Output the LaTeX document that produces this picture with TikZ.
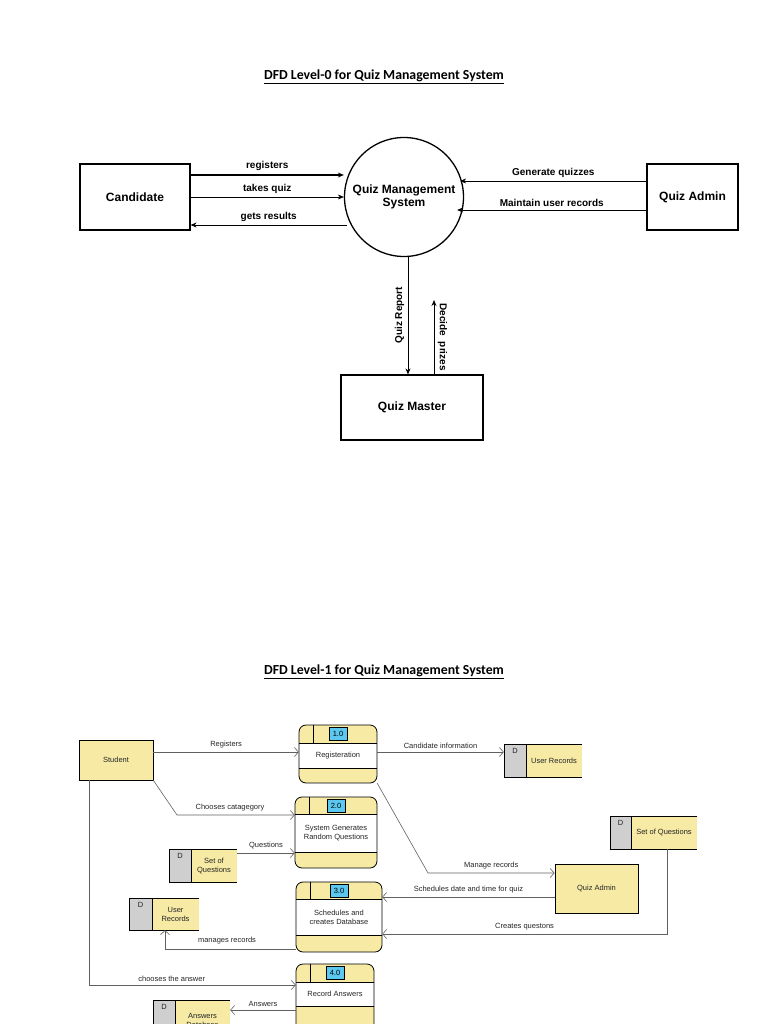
\documentclass[tikz,border=0pt]{standalone}
\usepackage{fontspec}
\setmainfont{Liberation Sans}
\newfontfamily\carl{Carlito}
\usetikzlibrary{arrows.meta,fit,calc}
\definecolor{dyel}{HTML}{F6EAA4}
\definecolor{dgray}{HTML}{CFCFCF}
\definecolor{dblue}{HTML}{5CC8F0}
\definecolor{lgray}{HTML}{606060}
\tikzset{
  ent/.style={draw,line width=1.2pt,fill=white},
  big/.style={font=\fontsize{12}{13}\selectfont\bfseries},
  lab/.style={font=\fontsize{10}{11}\selectfont\bfseries},
  a0/.style={-{Stealth[length=6pt,width=5pt]},line width=0.7pt},
  a1/.style={-{Straight Barb[length=4pt,width=9pt]},draw=lgray,line width=0.6pt},
  sm/.style={font=\fontsize{7.5}{9}\selectfont,text=black!85},
  ttl/.style={font=\carl\fontsize{13.8}{15}\selectfont\bfseries},
}
\newcommand\dfproc[9]{%
  \begin{scope}
  \clip[rounded corners=7pt] (#2,#3) rectangle (#4,#5);
  \fill[dyel] (#2,#3) rectangle (#4,#5);
  \fill[white] (#2,#6) rectangle (#4,#7);
  \end{scope}
  \draw[line width=0.8pt,rounded corners=7pt] (#2,#3) rectangle (#4,#5);
  \draw[line width=0.7pt] (#2,#6) -- (#4,#6) (#2,#7) -- (#4,#7) ($(#2,#3)+(14,0)$) -- ($(#2,#6)+(14,0)$);
  \node[fit={(#2,#3)(#4,#5)},inner sep=0] (#1) {};
  \node[draw,fill=dblue,minimum width=18pt,minimum height=13pt,inner sep=0,font=\fontsize{7.5}{8}\selectfont] at ($(#2,#3)!0.5!(#4,#3)+(0,9)$) {#8};
  \node[sm,align=center] at ($(#2,#6)!0.5!(#4,#7)$) {#9};
}
\newcommand\dfstore[7]{%
  \fill[dyel] (#2,#3) rectangle (#4,#5);
  \fill[dgray] (#2,#3) rectangle (#6,#5);
  \draw[line width=0.7pt] (#4,#3) -- (#2,#3) -- (#2,#5) -- (#4,#5) (#6,#3) -- (#6,#5);
  \node[fit={(#2,#3)(#4,#5)},inner sep=0] (#1) {};
  \node[sm] at ($(#2,#3)!0.5!(#6,#3)+(0,7)$) {D};
  \node[sm,align=center] at ($(#6,#3)!0.5!(#4,#5)$) {#7};
}
\begin{document}
\begin{tikzpicture}[x=1pt,y=-1pt]
\useasboundingbox (0,0) rectangle (768,1024);
% ---------- Level 0
\node[ttl] (t0) at (384,77) {\underline{DFD Level-0 for Quiz Management System}};
\node[ent,big,minimum width=110pt,minimum height=66pt] (cand) at (135,197) {Candidate};
\node[ent,big,minimum width=91pt,minimum height=66pt] (qadm) at (692.5,197) {Quiz Admin};
\node[ent,big,minimum width=142pt,minimum height=65pt] (qm) at (412,407.5) {Quiz Master};
\node[draw,circle,line width=1.3pt,minimum size=119pt,inner sep=0,big,align=center] (qms) at (404,197) {Quiz Management\\System};
\draw[a0,line width=1.4pt] (cand.east |- 0,175) -- node[lab,above]{registers} (qms.west |- 0,175);
\draw[a0] (cand.east |- 0,197) -- node[lab,above]{takes quiz} (qms.west |- 0,197);
\draw[a0] ($(qms.west |- 0,225)+(3,0)$) -- node[lab,above]{gets results} (cand.east |- 0,225);
\draw[a0] (qadm.west |- 0,181) -- node[lab,above]{Generate quizzes} ($(qms.east |- 0,181)+(-4,0)$);
\draw[a0] (qadm.west |- 0,210) -- node[lab,above]{Maintain user records} ($(qms.east |- 0,210)+(-7,0)$);
\coordinate (qr) at (408,256);
\coordinate (dp) at (434,300);
\draw[a0] (qr) -- node[lab,rotate=90,above]{Quiz Report} (qm.north -| qr);
\draw[a0] (qm.north -| dp) -- node[lab,rotate=-90,above]{Decide\ \ prizes} (dp);
% ---------- Level 1
\node[ttl] (t1) at (384,672) {\underline{DFD Level-1 for Quiz Management System}};
\node[draw,line width=0.8pt,fill=dyel,minimum width=74pt,minimum height=40pt,sm] (stu) at (116,760) {Student};
\node[draw,line width=0.8pt,fill=dyel,minimum width=83pt,minimum height=49pt,sm] (adm) at (596.5,888.5) {Quiz Admin};
\dfproc{p1}{299}{725}{377}{783}{743}{768}{1.0}{Registeration}
\dfproc{p2}{295}{797}{377}{868}{814}{852}{2.0}{System Generates\\Random Questions}
\dfproc{p3}{296}{882}{382}{952}{899}{935}{3.0}{Schedules and\\creates Database}
\dfproc{p4}{296}{964}{374}{1040}{982}{1006}{4.0}{Record Answers}
\dfstore{ur1}{504}{744}{582}{777}{526}{User Records}
\dfstore{sq1}{610}{816}{697}{849}{631}{Set of Questions}
\dfstore{sq2}{169}{849}{237}{882}{191}{Set of\\Questions}
\dfstore{ur2}{129}{898}{199}{930}{152}{User\\Records}
\dfstore{ad}{153}{1000}{230}{1040}{175}{Answers\\Database}
\draw[a1] (stu.east |- 0,752) -- node[sm,above]{Registers} (p1.west |- 0,752);
\draw[a1] (p1.east |- 0,752) -- node[sm,above]{Candidate information} (ur1.west |- 0,752);
\draw[a1] (stu.south east) -- (177,815) -- node[sm,above,pos=0.45]{Chooses catagegory} (p2.west |- 0,815);
\draw[a1] (sq2.east |- 0,853) -- node[sm,above]{Questions} (p2.west |- 0,853);
\draw[a1] (p1.south east) -- (428,873) -- node[sm,above]{Manage records} (adm.west |- 0,873);
\draw[a1] (adm.west |- 0,897) -- node[sm,above]{Schedules date and time for quiz} (p3.east |- 0,897);
\draw[a1] (sq1.south -| 667,0) -- (667,934) -- node[sm,above]{Creates questons} (p3.east |- 0,934);
\draw[a1] (p3.west |- 0,949) -- (165,949) -- (ur2.south -| 165,0);
\node[sm] at (227,941) {manages records};
\draw[a1] (stu.south -| 89,0) -- (89,985) -- node[sm,above,pos=0.4]{chooses the answer} (p4.west |- 0,985);
\draw[a1] (p4.west |- 0,1010) -- node[sm,above]{Answers} (ad.east |- 0,1010);
\end{tikzpicture}
\end{document}
